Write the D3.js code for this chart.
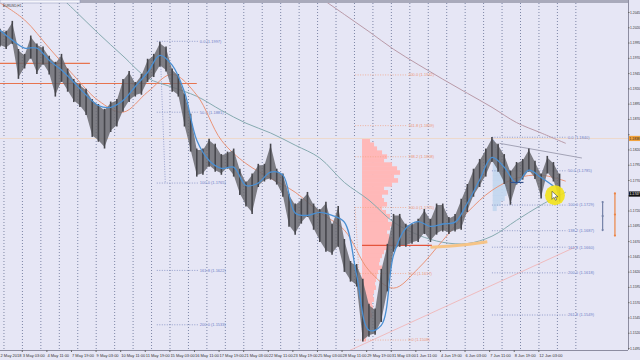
<!DOCTYPE html>
<html><head><meta charset="utf-8">
<script src="https://cdn.jsdelivr.net/npm/d3@7"></script>
<style>html,body{margin:0;padding:0;background:#e6e6f5;overflow:hidden} svg{display:block}</style>
</head><body>
<svg id="c" width="640" height="360"></svg>
<script>
// ---------------- data ----------------
const timeLabels = ["2 May 2018","3 May 03:00","4 May 11:00","7 May 19:00","9 May 03:00","10 May 11:00","11 May 19:00","15 May 03:00","16 May 11:00","17 May 19:00","21 May 03:00","22 May 11:00","23 May 19:00","25 May 03:00","28 May 11:00","29 May 19:00","31 May 03:00","1 Jun 11:00","4 Jun 19:00","6 Jun 03:00","7 Jun 11:00","8 Jun 19:00","12 Jun 03:00"];
const priceTicks = [1.2045,1.2020,1.1995,1.1970,1.1945,1.1920,1.1895,1.1870,1.1845,1.1820,1.1795,1.1770,1.1745,1.1720,1.1695,1.1670,1.1645,1.1620,1.1595,1.1570,1.1545,1.1520,1.1495];

// H1 EURUSD, one sample every 8 bars (high / low)
const priceHigh = [1.2015,1.2012,1.2028,1.1982,1.1974,1.2004,1.1991,1.1986,1.1971,1.1961,
1.1974,1.1950,1.1933,1.1925,1.1917,1.1900,1.1892,1.1884,1.1896,1.1900,
1.1933,1.1946,1.1928,1.1941,1.1966,1.1974,1.1994,1.1986,1.1950,1.1941,
1.1909,1.1876,1.1819,1.1819,1.1835,1.1827,1.1810,1.1814,1.1819,1.1786,
1.1765,1.1778,1.1794,1.1794,1.1827,1.1786,1.1778,1.1745,1.1729,1.1737,
1.1748,1.1729,1.1720,1.1732,1.1696,1.1725,1.1671,1.1635,1.1630,1.1606,
1.1565,1.1557,1.1622,1.1663,1.1712,1.1712,1.1696,1.1696,1.1704,1.1720,
1.1704,1.1729,1.1729,1.1707,1.1712,1.1737,1.1761,1.1786,1.1802,1.1819,
1.1838,1.1827,1.1810,1.1783,1.1797,1.1802,1.1819,1.1799,1.1778,1.1807,
1.1797,1.1778];
const priceLow = [1.1991,1.1987,1.1995,1.1938,1.1955,1.1971,1.1946,1.1961,1.1945,1.1909,
1.1933,1.1917,1.1900,1.1892,1.1879,1.1843,1.1835,1.1824,1.1851,1.1860,
1.1884,1.1900,1.1909,1.1912,1.1933,1.1941,1.1958,1.1950,1.1917,1.1909,
1.1860,1.1819,1.1778,1.1781,1.1794,1.1786,1.1781,1.1791,1.1778,1.1748,
1.1729,1.1717,1.1761,1.1770,1.1773,1.1765,1.1745,1.1696,1.1683,1.1701,
1.1712,1.1691,1.1671,1.1655,1.1650,1.1663,1.1622,1.1606,1.1598,1.1508,
1.1516,1.1519,1.1540,1.1590,1.1655,1.1663,1.1663,1.1668,1.1671,1.1684,
1.1671,1.1683,1.1688,1.1684,1.1688,1.1691,1.1720,1.1745,1.1761,1.1778,
1.1802,1.1786,1.1766,1.1732,1.1765,1.1773,1.1786,1.1774,1.1742,1.1783,
1.1770,1.1737];
const sampleStep = 8;

// moving averages
const maFast = [1.2015,1.1999,1.1986,1.1986,1.1966,1.1950,1.1930,1.1909,1.1892,1.1889,
1.1900,1.1923,1.1946,1.1974,1.1958,1.1914,1.1835,1.1802,1.1789,1.1791,
1.1761,1.1765,1.1783,1.1778,1.1716,1.1712,1.1717,1.1712,1.1701,1.1614,
1.1524,1.1532,1.1647,1.1691,1.1702,1.1694,1.1698,1.1701,1.1732,1.1770,
1.1807,1.1791,1.1765,1.1786,1.1774,1.1760];
const maFastStep = 16;
const maSlow = [1.2060,1.2032,1.1986,1.1941,1.1900,1.1881,1.1914,1.1943,1.1909,1.1835,1.1797,1.1773,1.1750,1.1717,1.1688,1.1622,1.1593,1.1625,1.1671,1.1717,1.1753,1.1773,1.1778,1.1768];
const maSlowStep = 32;
const maMid = [1.2087,1.2049,1.2010,1.1973,1.1937,1.1922,1.1907,1.1884,1.1863,1.1847,1.1827,1.1806,1.1766,1.1737,1.1701,1.1680,1.1668,1.1666,1.1678,1.1704,1.1729,1.1750];
const maMidStart = 64, maMidStep = 32;
const maLong = [1.2069,1.2041,1.2013,1.1984,1.1959,1.1935,1.1912,1.1889,1.1864,1.1847,1.1830];
const maLongStart = 416, maLongStep = 32;

// volume profile (pink), from top level downwards
const vpTop = 1.1838, vpStepPrice = 0.00065, vpBaseBar = 471;
const vpVolume = [8,12,15,20,25,22,30,35,38,32,36,30,22,26,20,22,25,20,24,28,26,30,28,25,27,30,34,28,22,20,18,17,20,16,15,14,13,14,12,11,12,10,11,9,10,8,7,6,6,5,4];
// small blue profile
const vp2Top = 1.1835, vp2StepPrice = 0.00082, vp2BaseBar = 641;
const vp2Volume = [2,4,5,7,9,11,12,14,15,16,14,12,8,4];

// fibonacci objects
const fibLeft = [{l:"0.0",p:1.1997},{l:"50.0",p:1.1881},{l:"100.0",p:1.1765},{l:"161.8",p:1.1622},{l:"200.0",p:1.1533}];
const fibMid = [{l:"0.0",p:1.1508},{l:"50.0",p:1.1617},{l:"100.0",p:1.1725},{l:"138.2",p:1.1808},{l:"161.8",p:1.1859},{l:"200.0",p:1.1942}];
const fibRight = [{l:"0.0",p:1.1840},{l:"50.0",p:1.1785},{l:"100.0",p:1.1729},{l:"138.2",p:1.1687},{l:"161.8",p:1.1660},{l:"200.0",p:1.1618},{l:"261.8",p:1.1549}];

const hLines = [{p:1.1961,b0:0,b1:117},{p:1.1928,b0:0,b1:256}];
const hLevel = 1.1838;
const currentPrice = 1.1747;
const pocPrice = 1.1663;

// ---------------- drawing ----------------
const W=640,H=360,plotR=628,plotT=3,plotB=350;
const FONT = "'Liberation Sans', Arial, sans-serif";
const svg = d3.select('#c');
const x = d3.scaleLinear().domain([0,817]).range([0,plotR]);
const y = d3.scaleLinear().domain([1.2045,1.1495]).range([12,348]);
const vw = d3.scaleLinear().domain([0,40]).range([0,40]);

svg.append('rect').attr('width',W).attr('height',H).attr('fill','#e6e6f5');
svg.append('defs').append('clipPath').attr('id','plot').append('rect')
  .attr('x',0).attr('y',plotT).attr('width',plotR).attr('height',plotB-plotT);
const g = svg.append('g').attr('clip-path','url(#plot)');

// day separators
const gridBars = d3.range(4.5, 760, 24);
g.selectAll('line.grid').data(gridBars).join('line').attr('class','grid')
  .attr('x1',d=>x(d)+0.5).attr('x2',d=>x(d)+0.5).attr('y1',plotT).attr('y2',plotB)
  .attr('stroke','#7d86a6').attr('stroke-width',1).attr('stroke-dasharray','1,2');

// volume profile
g.selectAll('rect.vp').data(vpVolume).join('rect').attr('class','vp')
  .attr('x',x(vpBaseBar)).attr('y',(d,i)=>y(vpTop - i*vpStepPrice))
  .attr('width',d=>vw(d)).attr('height',(y(0)-y(vpStepPrice))+0.6)
  .attr('fill','#ffb8b8');
g.selectAll('rect.vp2').data(vp2Volume).join('rect').attr('class','vp2')
  .attr('x',x(vp2BaseBar)).attr('y',(d,i)=>y(vp2Top - i*vp2StepPrice))
  .attr('width',d=>vw(d)).attr('height',(y(0)-y(vp2StepPrice))+0.6)
  .attr('fill','#c2d6ee').attr('opacity',0.9);

// horizontal objects
g.append('line').attr('x1',0).attr('x2',plotR).attr('y1',y(hLevel)).attr('y2',y(hLevel))
  .attr('stroke','#eed9cb').attr('stroke-width',1);
g.selectAll('line.hl').data(hLines).join('line').attr('class','hl')
  .attr('x1',d=>x(d.b0)).attr('x2',d=>x(d.b1)).attr('y1',d=>y(d.p)).attr('y2',d=>y(d.p))
  .attr('stroke','#e7744f').attr('stroke-width',1.2);

// trend lines
const seg = (b0,p0,b1,p1,col,w,dash)=>g.append('line').attr('x1',x(b0)).attr('y1',y(p0)).attr('x2',x(b1)).attr('y2',y(p1))
  .attr('stroke',col).attr('stroke-width',w).attr('stroke-dasharray',dash||null);
seg(455,1.1491,748,1.1660,'#f1b0b0',0.8);
seg(650,1.1830,757,1.1806,'#a3a3b6',1);

// fib objects
function fib(levels,b0,b1,tb,lineCol,txtCol,t0,t1){
  g.selectAll(null).data(levels).join('line')
    .attr('x1',x(b0)).attr('x2',x(b1)).attr('y1',d=>y(d.p)).attr('y2',d=>y(d.p))
    .attr('stroke',lineCol).attr('stroke-width',0.8).attr('stroke-dasharray','1,1.5');
  g.append('line').attr('x1',x(t0[0])).attr('y1',y(t0[1])).attr('x2',x(t1[0])).attr('y2',y(t1[1]))
    .attr('stroke',lineCol).attr('stroke-width',0.8).attr('stroke-dasharray','1,1.5');
  g.selectAll(null).data(levels).join('text')
    .attr('x',x(tb)).attr('y',d=>y(d.p)+1.4).attr('font-family',FONT).attr('font-size',4)
    .attr('fill',txtCol).text(d=>`${d.l} (${d.p.toFixed(4)})`);
}
fib(fibLeft,204,259,260,'#7f8cc0','#6f7fc8',[208,1.1997],[215,1.1765]);
fib(fibMid,462,530,531,'#f0a488','#ee9677',[472,1.1508],[462,1.1725]);
fib(fibRight,640,738,739,'#7f8cc0','#6f7fc8',[641,1.1840],[666,1.1729]);

// MAs
const lineGen = d3.line().curve(d3.curveCatmullRom.alpha(0.5));
const pts = (arr,start,step)=>arr.map((v,i)=>[x(start+i*step),y(v)]);
g.append('path').attr('d',lineGen(pts(maLong,maLongStart,maLongStep))).attr('fill','none').attr('stroke','#b99aa8').attr('stroke-width',1);
g.append('path').attr('d',lineGen(pts(maMid,maMidStart,maMidStep))).attr('fill','none').attr('stroke','#86aab0').attr('stroke-width',1);
g.append('path').attr('d',lineGen(pts(maSlow,0,maSlowStep))).attr('fill','none').attr('stroke','#ea9478').attr('stroke-width',1);

// POC & peach segment
g.append('line').attr('x1',x(vpBaseBar)).attr('x2',x(562)).attr('y1',y(pocPrice)).attr('y2',y(pocPrice))
  .attr('stroke','#e4543c').attr('stroke-width',1.2);
g.append('path').attr('d',d3.line().curve(d3.curveCatmullRom)([[x(560),y(1.1660)],[x(598),y(1.1663)],[x(634),y(1.1669)]]))
  .attr('fill','none').attr('stroke','#f6c487').attr('stroke-width',3);

// price: high-low band with thin candles
const samples = priceHigh.map((h,i)=>({b:i*sampleStep,h,l:priceLow[i]}));
g.append('path').attr('d',d3.area().x(d=>x(d.b)).y0(d=>y(d.l)).y1(d=>y(d.h))(samples))
  .attr('fill','#6a6a70').attr('opacity',0.85);
g.selectAll('line.bar').data(samples).join('line').attr('class','bar')
  .attr('x1',d=>x(d.b)).attr('x2',d=>x(d.b)).attr('y1',d=>y(d.h)-1.5).attr('y2',d=>y(d.l)+1.5)
  .attr('stroke','#46464c').attr('stroke-width',1.6);

// fast MA
g.append('path').attr('d',lineGen(pts(maFast,0,maFastStep))).attr('fill','none').attr('stroke','#4a8fd2').attr('stroke-width',1.3);

// small dark blue segment
seg(664,1.1766,681,1.1766,'#34508a',1.2);

// right margin range markers
function marker(b,p0,p1,col){
  g.append('line').attr('x1',x(b)).attr('x2',x(b)).attr('y1',y(p0)).attr('y2',y(p1)).attr('stroke',col).attr('stroke-width',1.2);
  g.selectAll(null).data([p0,(p0+p1)/2,p1]).join('circle').attr('cx',x(b)).attr('cy',d=>y(d)).attr('r',1.1).attr('fill',col);
}
marker(784,1.1734,1.1688,'#7482a8');
marker(800,1.1748,1.1679,'#ec8444');

// cursor highlight
const cx = x(722), cy = y(1.1745);
g.append('circle').attr('cx',cx).attr('cy',cy).attr('r',10).attr('fill','#f2e21a').attr('opacity',0.9);
g.append('path').attr('transform',`translate(${cx-3},${cy-4})`)
  .attr('d','M0,0 L0,8 L2,6 L3.5,9 L4.7,8.4 L3.3,5.6 L6,5.6 Z').attr('fill','#fff').attr('stroke','#222').attr('stroke-width',0.5);

// top bar
svg.append('rect').attr('x',0).attr('y',0).attr('width',plotR).attr('height',3).attr('fill','#a9aabb');
svg.append('rect').attr('x',0).attr('y',0).attr('width',80).attr('height',3).attr('fill','#f5f5fb').attr('stroke','#8a93b8').attr('stroke-width',0.5);
svg.append('text').attr('x',3).attr('y',7).attr('font-family',FONT).attr('font-size',3.2).attr('fill','#333').text('EURUSD,H1');

// axes frame
svg.append('line').attr('x1',plotR+0.5).attr('x2',plotR+0.5).attr('y1',0).attr('y2',plotB).attr('stroke','#8c8ca0');
svg.append('line').attr('x1',0).attr('x2',plotR).attr('y1',plotB+0.5).attr('y2',plotB+0.5).attr('stroke','#8c8ca0');

// price axis (labels replaced by the two tags are hidden)
const tagged = [1.1845,1.1745];
const ya = svg.append('g').attr('transform',`translate(${plotR},0)`)
  .call(d3.axisRight(y).tickValues(priceTicks).tickFormat(d3.format('.4f')).tickSize(1.5).tickPadding(0.6));
ya.select('.domain').remove();
ya.selectAll('text').attr('font-family',FONT).attr('font-size',3.3).attr('fill','#333')
  .style('display',d=>tagged.includes(d)?'none':null);
ya.selectAll('line').attr('stroke','#666');

function priceTag(p,bg,fg){
  svg.append('rect').attr('x',plotR+1).attr('y',y(p)-2.6).attr('width',11).attr('height',5.2).attr('fill',bg);
  svg.append('text').attr('x',plotR+1.6).attr('y',y(p)+1.2).attr('font-family',FONT).attr('font-size',3.3).attr('fill',fg).text(p.toFixed(4));
}
priceTag(hLevel,'#f2a23c','#222');
priceTag(currentPrice,'#111','#fff');

// time axis
const tg = svg.append('g');
tg.selectAll('line').data(timeLabels).join('line')
  .attr('x1',(d,i)=>x(-3+32*i)).attr('x2',(d,i)=>x(-3+32*i)).attr('y1',plotB).attr('y2',plotB+2).attr('stroke','#666');
tg.selectAll('text').data(timeLabels).join('text')
  .attr('x',(d,i)=>Math.max(0.5,x(-3+32*i)+0.5)).attr('y',plotB+6.5).attr('font-family',FONT).attr('font-size',4).attr('fill','#333').text(d=>d);
</script>
</body></html>
